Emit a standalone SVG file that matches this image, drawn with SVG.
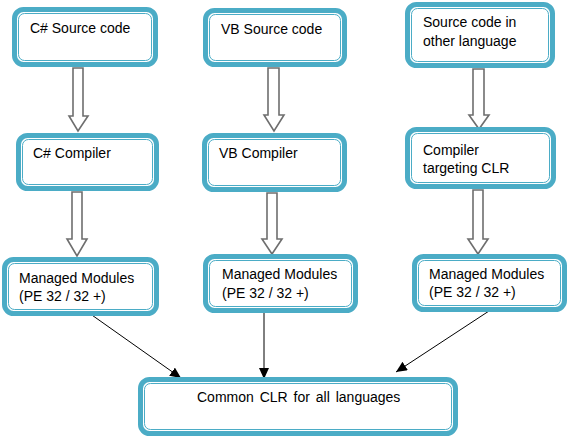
<svg xmlns="http://www.w3.org/2000/svg" width="569" height="437" viewBox="0 0 569 437">
<defs>
<style>
.o{fill:#fff;stroke:#4bacc6;stroke-width:5}
.i{fill:none;stroke:#4bacc6;stroke-width:1}
.t{font-family:"Liberation Sans",Arial,sans-serif;font-size:14px;fill:#000}
.ba{fill:#fff;stroke:#6e6e6e;stroke-width:1.6;stroke-linejoin:miter}
.c{stroke:#000;stroke-width:1;fill:none}
</style>
<marker id="ah" markerUnits="userSpaceOnUse" markerWidth="12" markerHeight="10" refX="11" refY="5" orient="auto">
<path d="M0,0 L11,5 L0,10 Z" fill="#000"/>
</marker>
</defs>
<g id="arrows">
<path class="ba" d="M73,68 H83 V116 H88 L78,131 L69,116 H73 Z"/>
<path class="ba" d="M72,192 H82 V239 H87 L77,256 L67,239 H72 Z"/>
<path class="ba" d="M268,68 H279 V115 H284 L274,131 L264,115 H268 Z"/>
<path class="ba" d="M267,193 H277 V239 H282 L272,254 L262,239 H267 Z"/>
<path class="ba" d="M473,69 H484 V115 H489 L479,129 L469,115 H473 Z"/>
<path class="ba" d="M473,190 H483 V239 H488 L478,254 L468,239 H473 Z"/>
</g>
<g id="connectors">
<line class="c" x1="89" y1="313" x2="181" y2="378" marker-end="url(#ah)"/>
<line class="c" x1="264" y1="313" x2="264" y2="379" marker-end="url(#ah)"/>
<line class="c" x1="489" y1="311" x2="396" y2="372" marker-end="url(#ah)"/>
</g>
<g id="cs-source">
<rect class="o" x="14.5" y="9.5" width="141" height="55" rx="9"/>
<rect class="i" x="18.5" y="13.5" width="133" height="47" rx="6"/>
<text class="t" x="30" y="33">C# Source code</text>
</g>
<g id="vb-source">
<rect class="o" x="205.5" y="10.5" width="139" height="54" rx="9"/>
<rect class="i" x="209.5" y="14.5" width="131" height="46" rx="6"/>
<text class="t" x="221" y="34">VB Source code</text>
</g>
<g id="other-source">
<rect class="o" x="407.5" y="4.5" width="145" height="61" rx="9"/>
<rect class="i" x="411.5" y="8.5" width="137" height="53" rx="6"/>
<text class="t" x="423" y="27">Source code in</text>
<text class="t" x="423" y="46">other language</text>
</g>
<g id="cs-compiler">
<rect class="o" x="18.5" y="135.5" width="138" height="53" rx="9"/>
<rect class="i" x="22.5" y="139.5" width="130" height="45" rx="6"/>
<text class="t" x="33" y="158">C# Compiler</text>
</g>
<g id="vb-compiler">
<rect class="o" x="204.5" y="135.5" width="140" height="54" rx="9"/>
<rect class="i" x="208.5" y="139.5" width="132" height="46" rx="6"/>
<text class="t" x="219" y="158">VB Compiler</text>
</g>
<g id="clr-compiler">
<rect class="o" x="407.5" y="129.5" width="146" height="57" rx="9"/>
<rect class="i" x="411.5" y="133.5" width="138" height="49" rx="6"/>
<text class="t" x="423" y="155">Compiler</text>
<text class="t" x="423" y="173">targeting CLR</text>
</g>
<g id="mm-left">
<rect class="o" x="4.5" y="259.5" width="152" height="54" rx="9"/>
<rect class="i" x="8.5" y="263.5" width="144" height="46" rx="6"/>
<text class="t" x="19" y="283">Managed Modules</text>
<text class="t" x="19" y="301">(PE 32 / 32 +)</text>
</g>
<g id="mm-mid">
<rect class="o" x="205.5" y="256.5" width="150" height="54" rx="9"/>
<rect class="i" x="209.5" y="260.5" width="142" height="46" rx="6"/>
<text class="t" x="222" y="279">Managed Modules</text>
<text class="t" x="222" y="298">(PE 32 / 32 +)</text>
</g>
<g id="mm-right">
<rect class="o" x="414.5" y="256.5" width="150" height="53" rx="9"/>
<rect class="i" x="418.5" y="260.5" width="142" height="45" rx="6"/>
<text class="t" x="429" y="279">Managed Modules</text>
<text class="t" x="429" y="297">(PE 32 / 32 +)</text>
</g>
<g id="clr">
<rect class="o" x="140.5" y="379.5" width="315" height="54" rx="9"/>
<rect class="i" x="144.5" y="383.5" width="307" height="46" rx="6"/>
<text class="t" x="197" y="402" word-spacing="2">Common CLR for all languages</text>
</g>
</svg>
